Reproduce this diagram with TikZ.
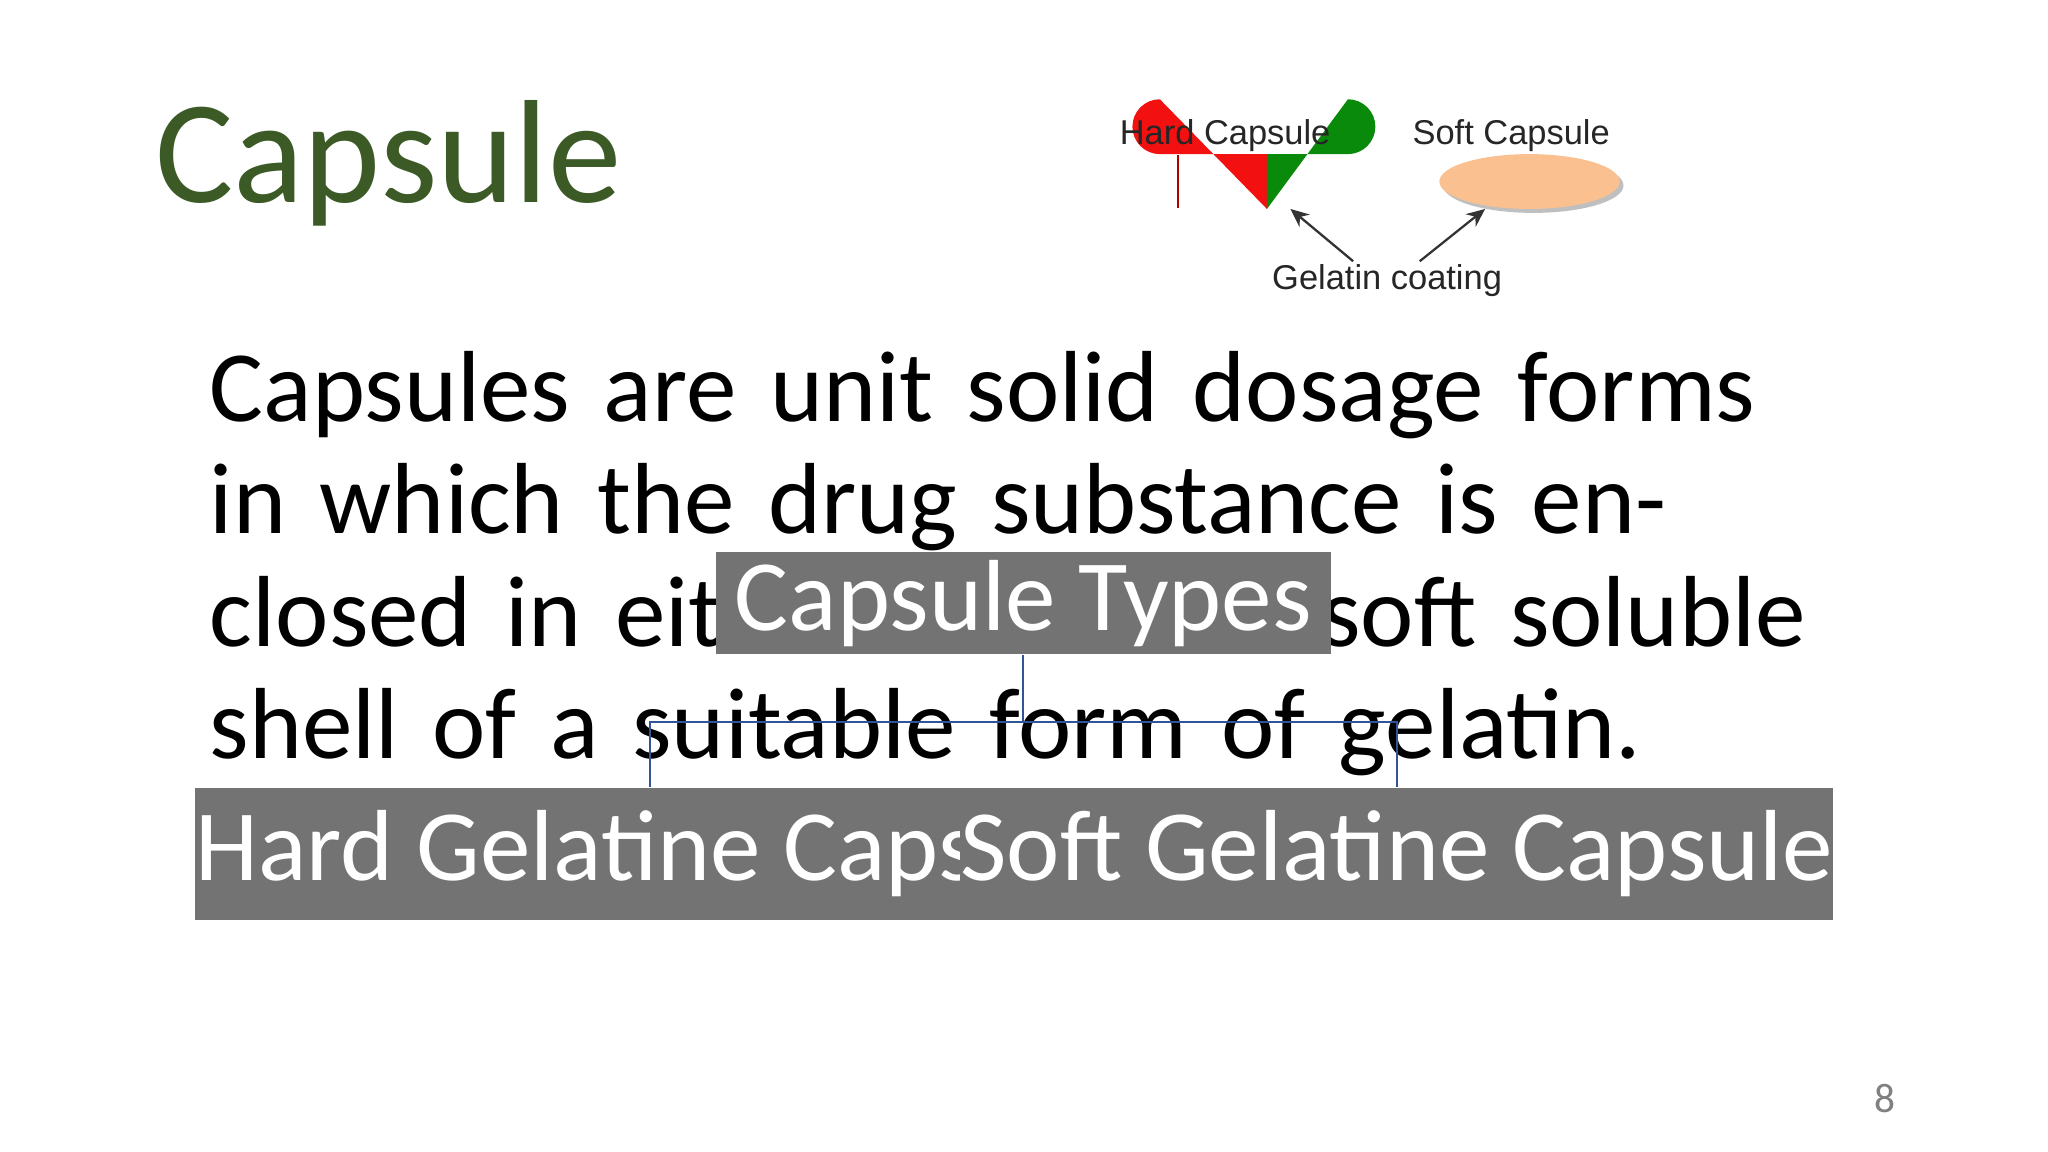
\documentclass[tikz,border=0pt]{standalone}
\usepackage{fontspec}
\setmainfont{Carlito}
\newfontfamily\arial{Liberation Sans}
\usetikzlibrary{arrows.meta}
\definecolor{titlegreen}{HTML}{3B5A26}
\definecolor{boxgray}{HTML}{737373}
\definecolor{linkblue}{HTML}{2F5597}
\definecolor{peach}{HTML}{FAC08F}
\definecolor{pred}{HTML}{F21010}
\definecolor{pgreen}{HTML}{0A8A0A}
\tikzset{
  typebox/.style={draw=none,fill=boxgray,text=white,font=\fontsize{22}{26}\selectfont,inner sep=0pt},
  link/.style={draw=linkblue,line width=0.5pt},
  small/.style={font=\arial\fontsize{7.5}{9}\selectfont,text=black!85},
  pointer/.style={-{Stealth[length=4pt,width=3.5pt]},line width=0.5pt,black!80}
}
\begin{document}
\begin{tikzpicture}[x=0.01cm,y=-0.01cm]
\useasboundingbox (0,0) rectangle (1568,882);
\fill[white] (0,0) rectangle (1568,882);
\node[anchor=base west,inner sep=0pt,text=titlegreen,font=\fontsize{32}{38}\selectfont] (title) at (118,155) {Capsule};
\node[anchor=north west,inner sep=0pt,text width=12.6cm,align=left,font=\fontsize{22}{24.5}\selectfont] (body) at (160,268)
 {Capsules are unit solid dosage forms in which the drug substance is enclosed in either a hard or soft soluble shell of a suitable form of gelatin.};
% capsules
\fill[pred] (970,118) -- (888,118) arc[start angle=90,end angle=270,radius=21] -- (970,160) -- cycle;
\fill[pgreen] (970,118) -- (1032,118) arc[start angle=90,end angle=-90,radius=21] -- (970,160) -- cycle;
\draw[red!70!black,line width=0.4pt] (902,119) -- (902,159);
\coordinate (hardc) at (988,160);
\fill[black!25] (1174,142) ellipse [x radius=69,y radius=21];
\fill[peach] (1171,139) ellipse [x radius=69,y radius=21];
\coordinate (softc) at (1137,160);
\node[small] (hl) at (938,104) {Hard Capsule};
\node[small] (sl) at (1157,104) {Soft Capsule};
\node[small] (gl) at (1062,215) {Gelatin coating};
\coordinate (g1) at (1036,200);
\coordinate (g2) at (1087,200);
\draw[pointer] (g1) -- (hardc);
\draw[pointer] (g2) -- (softc);
% boxes
\node[typebox,minimum width=4.71cm,minimum height=0.78cm] (types) at (783.5,462) {Capsule Types};
\node[typebox,minimum width=4.71cm,minimum height=1.01cm] (hard) at (497.5,653.5) {Hard Gelatine Capsule};
\node[typebox,minimum width=4.71cm,minimum height=1.01cm] (soft) at (1069.5,653.5) {Soft Gelatine Capsule};
\draw[link] (types.south) -- ++(0,51) -| (hard.north);
\draw[link] (types.south) -- ++(0,51) -| (soft.north);
\node[text=black!50,font=\fontsize{9}{10}\selectfont] (pg) at (1443,841) {8};
\end{tikzpicture}
\end{document}
